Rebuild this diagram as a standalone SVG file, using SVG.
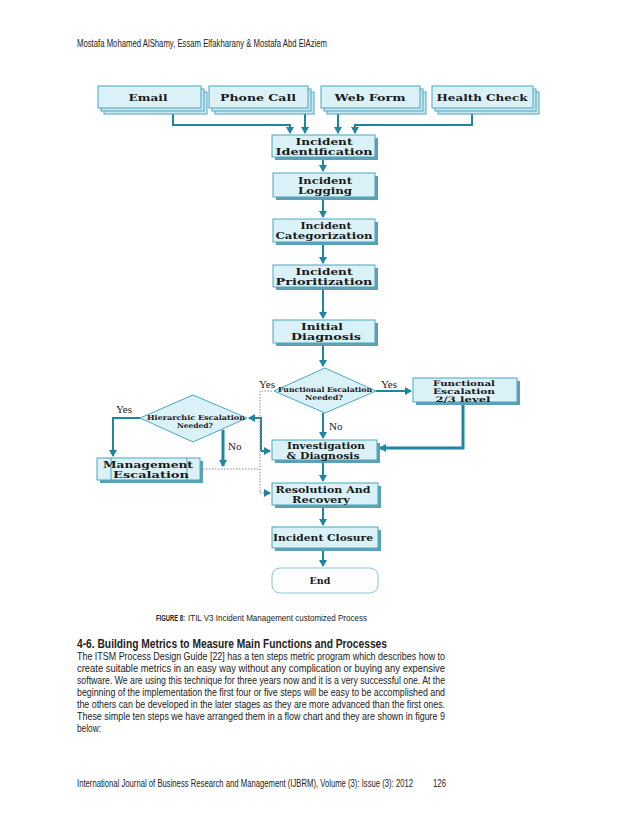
<svg xmlns="http://www.w3.org/2000/svg" width="638" height="826" viewBox="0 0 638 826">
<style>
.pg{font-family:"Liberation Sans Narrow","Liberation Sans",Arial,sans-serif;fill:#222}
.box{fill:#d9f1f7;stroke:#4aa7bf;stroke-width:1}
.sh{fill:#5d9fb3}
.stk{fill:#cbe8f0;stroke:#4aa7bf;stroke-width:1}
.lb{font-family:"DejaVu Serif","Liberation Serif",serif;font-weight:bold;font-size:9.5px;fill:#1a1a1a;text-anchor:middle}
.tb{font-size:10px}
.fb{font-size:7.5px}
.sm{font-family:"DejaVu Serif","Liberation Serif",serif;font-weight:bold;font-size:7px;fill:#1a1a1a;text-anchor:middle}
.yn{font-family:"Liberation Serif",serif;font-size:11px;fill:#1a1a1a}
.c{fill:none;stroke:#1e86a2;stroke-width:2}
.ct{fill:none;stroke:#1e86a2;stroke-width:3}
.d{fill:none;stroke:#888;stroke-width:1;stroke-dasharray:1.5 1.5}
</style>
<defs>
<marker id="a" markerWidth="8" markerHeight="8" refX="6" refY="4" orient="auto" markerUnits="userSpaceOnUse">
<path d="M0,0 L7,4 L0,8 z" fill="#1e86a2"/>
</marker>
</defs>
<rect width="638" height="826" fill="#fff"/>
<text class="pg" x="77" y="47" font-size="11" textLength="250" lengthAdjust="spacingAndGlyphs">Mostafa Mohamed AlShamy, Essam Elfakharany &amp; Mostafa Abd ElAziem</text>

<g id="connectors">
<path class="c" d="M173,109 V125 H290 V133" marker-end="url(#a)"/>
<path class="c" d="M305,112 V133" marker-end="url(#a)"/>
<path class="c" d="M338,112 V133" marker-end="url(#a)"/>
<path class="c" d="M472,112 V125 H355 V133" marker-end="url(#a)"/>
<path class="c" d="M323,157 V171" marker-end="url(#a)"/>
<path class="c" d="M323,197 V217" marker-end="url(#a)"/>
<path class="c" d="M323,242 V263" marker-end="url(#a)"/>
<path class="c" d="M323,287 V318" marker-end="url(#a)"/>
<path class="c" d="M323,343 V366" marker-end="url(#a)"/>
<path class="c" d="M376,391 H411" marker-end="url(#a)"/>
<path class="c" d="M323,413 V438" marker-end="url(#a)"/>
<path class="ct" d="M463,402 V448 H380" marker-end="url(#a)"/>
<path class="c" d="M261,451 H270" marker-end="url(#a)"/>
<path class="c" d="M261,451 V418 H249" marker-end="url(#a)"/>
<path class="c" d="M140,418 H113 V456" marker-end="url(#a)"/>
<path class="ct" d="M223,430 V466" marker-end="url(#a)"/>
<path class="d" d="M272,391 H260 V493 H266"/>
<path class="c" d="M266,493 H270" marker-end="url(#a)"/>
<path class="d" d="M203,469 H260"/>
<path class="c" d="M323,460 V481" marker-end="url(#a)"/>
<path class="c" d="M323,505 V525" marker-end="url(#a)"/>
<path class="c" d="M323,548 V566" marker-end="url(#a)"/>
</g>

<g id="email">
<rect class="stk" x="104" y="92" width="103" height="22"/>
<rect class="stk" x="101" y="89" width="103" height="22"/>
<rect class="box" x="98" y="86" width="103" height="22"/>
<text class="lb tb" x="148" y="101" textLength="39" lengthAdjust="spacingAndGlyphs">Email</text>
</g>
<g id="phone">
<rect class="stk" x="215" y="92" width="99" height="22"/>
<rect class="stk" x="212" y="89" width="99" height="22"/>
<rect class="box" x="209" y="86" width="99" height="22"/>
<text class="lb tb" x="258" y="101" textLength="76" lengthAdjust="spacingAndGlyphs">Phone Call</text>
</g>
<g id="webform">
<rect class="stk" x="327" y="92" width="99" height="22"/>
<rect class="stk" x="324" y="89" width="99" height="22"/>
<rect class="box" x="321" y="86" width="99" height="22"/>
<text class="lb tb" x="370" y="101" textLength="71" lengthAdjust="spacingAndGlyphs">Web Form</text>
</g>
<g id="health">
<rect class="stk" x="438" y="92" width="101" height="22"/>
<rect class="stk" x="435" y="89" width="101" height="22"/>
<rect class="box" x="432" y="86" width="101" height="22"/>
<text class="lb tb" x="482" y="101" textLength="91" lengthAdjust="spacingAndGlyphs">Health Check</text>
</g>

<g id="identification">
<rect class="sh" x="275" y="138" width="103" height="22"/>
<rect class="box" x="272" y="135" width="103" height="22"/>
<text class="lb" x="324" y="145" textLength="57" lengthAdjust="spacingAndGlyphs">Incident</text>
<text class="lb" x="324" y="155" textLength="97" lengthAdjust="spacingAndGlyphs">Identification</text>
</g>
<g id="logging">
<rect class="sh" x="276" y="176" width="102" height="24"/>
<rect class="box" x="273" y="173" width="102" height="24"/>
<text class="lb" x="325" y="184" textLength="54" lengthAdjust="spacingAndGlyphs">Incident</text>
<text class="lb" x="325" y="194" textLength="54" lengthAdjust="spacingAndGlyphs">Logging</text>
</g>
<g id="categorization">
<rect class="sh" x="276" y="222" width="102" height="23"/>
<rect class="box" x="273" y="219" width="102" height="23"/>
<text class="lb" x="326" y="229" font-size="8.5" textLength="51" lengthAdjust="spacingAndGlyphs">Incident</text>
<text class="lb" x="324" y="239" font-size="8.5" textLength="97" lengthAdjust="spacingAndGlyphs">Categorization</text>
</g>
<g id="prioritization">
<rect class="sh" x="276" y="268" width="102" height="22"/>
<rect class="box" x="273" y="265" width="102" height="22"/>
<text class="lb" x="324" y="275" textLength="57" lengthAdjust="spacingAndGlyphs">Incident</text>
<text class="lb" x="324" y="285" textLength="97" lengthAdjust="spacingAndGlyphs">Prioritization</text>
</g>
<g id="initial">
<rect class="sh" x="276" y="323" width="102" height="23"/>
<rect class="box" x="273" y="320" width="102" height="23"/>
<text class="lb" x="322" y="330" textLength="42" lengthAdjust="spacingAndGlyphs">Initial</text>
<text class="lb" x="326" y="340" textLength="70" lengthAdjust="spacingAndGlyphs">Diagnosis</text>
</g>

<g id="functional-decision">
<polygon class="box" points="325,368 376,391 325,413 274,391"/>
<text class="sm" x="325" y="392" textLength="94" lengthAdjust="spacingAndGlyphs">Functional Escalation</text>
<text class="sm" x="324" y="400" textLength="38" lengthAdjust="spacingAndGlyphs">Needed?</text>
<text class="yn" x="259" y="388">Yes</text>
<text class="yn" x="381" y="388">Yes</text>
<text class="yn" x="329" y="430">No</text>
</g>
<g id="functional-escalation">
<rect class="sh" x="416" y="381" width="104" height="24"/>
<rect class="box" x="413" y="378" width="104" height="24"/>
<text class="lb fb" x="464" y="386" textLength="62" lengthAdjust="spacingAndGlyphs">Functional</text>
<text class="lb fb" x="464" y="394" textLength="62" lengthAdjust="spacingAndGlyphs">Escalation</text>
<text class="lb fb" x="463" y="402" textLength="55" lengthAdjust="spacingAndGlyphs">2/3 level</text>
</g>

<g id="hierarchic-decision">
<polygon class="box" points="193,395 247,418 193,442 140,418"/>
<text class="sm" x="196" y="420" textLength="98" lengthAdjust="spacingAndGlyphs">Hierarchic Escalation</text>
<text class="sm" x="195" y="428" textLength="36" lengthAdjust="spacingAndGlyphs">Needed?</text>
<text class="yn" x="116" y="413">Yes</text>
<text class="yn" x="228" y="450">No</text>
</g>
<g id="management">
<rect class="sh" x="100" y="461" width="103" height="22"/>
<rect class="box" x="97" y="458" width="103" height="22"/>
<line x1="111" y1="458" x2="111" y2="480" stroke="#4aa7bf"/>
<line x1="187" y1="458" x2="187" y2="480" stroke="#4aa7bf"/>
<text class="lb" x="148" y="468" font-size="10" textLength="90" lengthAdjust="spacingAndGlyphs">Management</text>
<text class="lb" x="151" y="478" font-size="10" textLength="76" lengthAdjust="spacingAndGlyphs">Escalation</text>
</g>

<g id="investigation">
<rect class="sh" x="275" y="443" width="105" height="20"/>
<rect class="box" x="272" y="440" width="105" height="20"/>
<text class="lb" x="326" y="449" textLength="78" lengthAdjust="spacingAndGlyphs">Investigation</text>
<text class="lb" x="323" y="459" textLength="73" lengthAdjust="spacingAndGlyphs">&amp; Diagnosis</text>
</g>
<g id="resolution">
<rect class="sh" x="275" y="486" width="106" height="22"/>
<rect class="box" x="272" y="483" width="106" height="22"/>
<text class="lb" x="323" y="493" textLength="95" lengthAdjust="spacingAndGlyphs">Resolution And</text>
<text class="lb" x="321" y="503" textLength="58" lengthAdjust="spacingAndGlyphs">Recovery</text>
</g>
<g id="closure">
<rect class="sh" x="275" y="530" width="106" height="21"/>
<rect class="box" x="272" y="527" width="106" height="21"/>
<text class="lb" x="323" y="541" textLength="100" lengthAdjust="spacingAndGlyphs">Incident Closure</text>
</g>
<g id="end">
<rect x="272" y="568" width="106" height="25" rx="8" fill="#fff" stroke="#8cc7d6"/>
<text class="lb" x="320" y="584" font-size="8.5">End</text>
</g>

<text class="pg" x="156" y="621" font-size="9.5" font-weight="bold" textLength="29" lengthAdjust="spacingAndGlyphs">FIGURE 8:</text>
<text class="pg" x="188" y="621" font-size="9.5" textLength="179" lengthAdjust="spacingAndGlyphs">ITIL V3 Incident Management customized Process</text>
<text class="pg" x="77" y="648" font-size="13.5" font-weight="bold" textLength="310" lengthAdjust="spacingAndGlyphs">4-6. Building Metrics to Measure Main Functions and Processes</text>
<g class="pg" font-size="11.5">
<text x="77" y="660" textLength="368" lengthAdjust="spacingAndGlyphs">The ITSM Process Design Guide [22] has a ten steps metric program which describes how to</text>
<text x="77" y="672" textLength="368" lengthAdjust="spacingAndGlyphs">create suitable metrics in an easy way without any complication or buying any expensive</text>
<text x="77" y="684" textLength="368" lengthAdjust="spacingAndGlyphs">software. We are using this technique for three years now and it is a very successful one. At the</text>
<text x="77" y="696" textLength="368" lengthAdjust="spacingAndGlyphs">beginning of the implementation the first four or five steps will be easy to be accomplished and</text>
<text x="77" y="708" textLength="368" lengthAdjust="spacingAndGlyphs">the others can be developed in the later stages as they are more advanced than the first ones.</text>
<text x="77" y="720" textLength="368" lengthAdjust="spacingAndGlyphs">These simple ten steps we have arranged them in a flow chart and they are shown in figure 9</text>
<text x="77" y="732" textLength="24" lengthAdjust="spacingAndGlyphs">below:</text>
</g>
<text class="pg" x="77" y="787" font-size="10.5" textLength="336" lengthAdjust="spacingAndGlyphs">International Journal of Business Research and Management (IJBRM), Volume (3): Issue (3): 2012</text>
<text class="pg" x="433" y="787" font-size="10.5" textLength="13" lengthAdjust="spacingAndGlyphs">126</text>
</svg>
